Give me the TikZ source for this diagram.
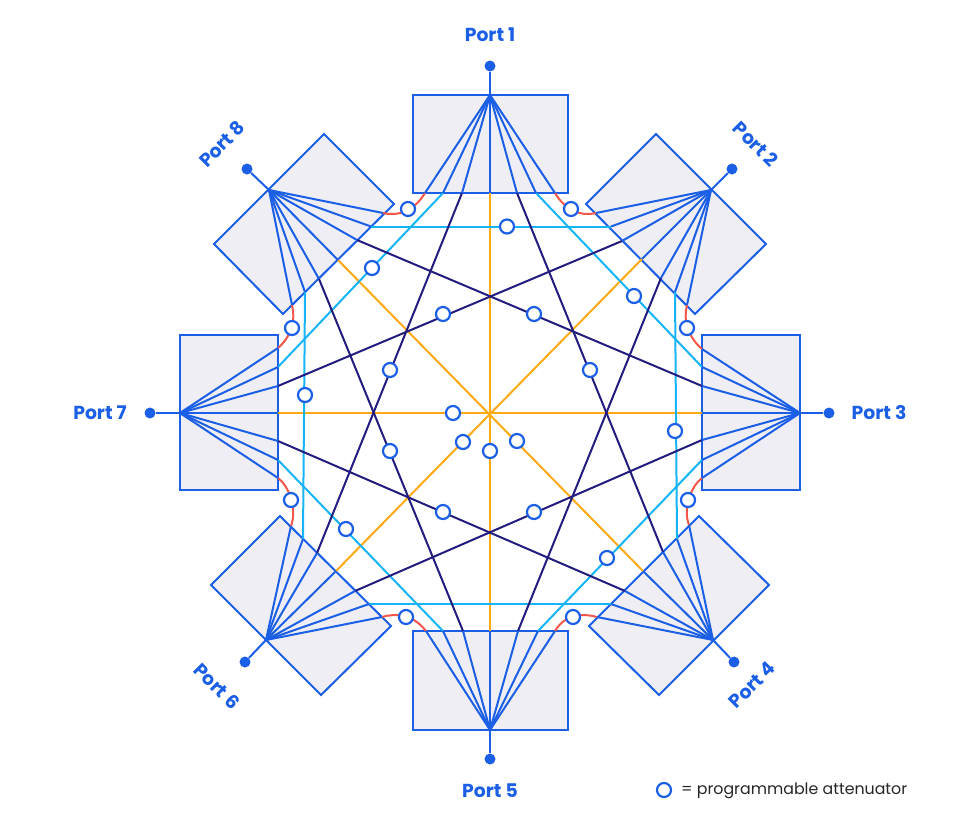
\documentclass[tikz,border=0pt]{standalone}
\usepackage{fontspec}
\setmainfont{Poppins}
\definecolor{pblue}{HTML}{1B5FE6}
\definecolor{pfill}{HTML}{EEEEF4}
\definecolor{pnavy}{HTML}{211C7E}
\definecolor{pcyan}{HTML}{14B4F6}
\definecolor{porange}{HTML}{FFA914}
\definecolor{pred}{HTML}{F4574A}
\tikzset{
  box/.style={draw=pblue,fill=pfill,line width=2pt,line join=miter},
  fan/.style={draw=pblue,line width=2pt},
  navyline/.style={draw=pnavy,line width=2pt},
  cyanline/.style={draw=pcyan,line width=2pt},
  orangeline/.style={draw=porange,line width=2pt},
  redline/.style={draw=pred,line width=2pt},
  atten/.style={circle,draw=pblue,fill=white,line width=2.2pt,minimum size=14pt,inner sep=0pt},
  portdot/.style={circle,fill=pblue,minimum size=11pt,inner sep=0pt},
  portlabel/.style={text=pblue,font=\fontsize{18.8}{22}\selectfont\bfseries,inner sep=0pt},
  legendtext/.style={text=black!85,font=\fontsize{15.8}{19}\selectfont,inner sep=0pt,anchor=west}
}
\begin{document}
\begin{tikzpicture}[x=1pt,y=-1pt]
\useasboundingbox (0,0) rectangle (980,825);
% apexes and box exits
\foreach \n/\x/\y in {
 a1/490/95, a2/711/190, a3/800/413, a4/713/640, a5/490/730, a6/266/640, a7/180/413, a8/269/190,
 p1a/425/193, p1b/443/193, p1c/462/193, p1d/490/193, p1e/517/193, p1f/536/193, p1g/555/193,
 p2a/596/213, p2b/611/226.5, p2c/622/241, p2d/642/259, p2e/661/278, p2f/675/292, p2g/687/305,
 p3a/702/349, p3b/702/367, p3c/702/386, p3d/702/413, p3e/702/440, p3f/702/460, p3g/702/478,
 p4a/689/525, p4b/677/539, p4c/663/552, p4d/643/571, p4e/625/591, p4f/611/604, p4g/597/617,
 p5a/555/631, p5b/538/631, p5c/518/631, p5d/490/631, p5e/463/631, p5f/443/631, p5g/426/631,
 p6a/382/617, p6b/369/604, p6c/355/591, p6d/336/571, p6e/317/553, p6f/303/539, p6g/291/526,
 p7a/278/478, p7b/278/460, p7c/278/441, p7d/278/413, p7e/278/386, p7f/278/367, p7g/278/348,
 p8a/292/305, p8b/305/292, p8c/319/279, p8d/338/260, p8e/357/240, p8f/371/226.5, p8g/383/213}
 {\coordinate (\n) at (\x,\y);}
% boxes
\path[box] (413,95) rectangle (568,193);
\path[box] (702,335) rectangle (800,490);
\path[box] (413,631) rectangle (568,730);
\path[box] (180,335) rectangle (278,490);
\path[box] (656,134) -- (766,244) -- (695,314) -- (586,204) -- cycle;
\path[box] (699,516) -- (769,585) -- (659,695) -- (589,626) -- cycle;
\path[box] (280,516) -- (391,626) -- (321,695) -- (211,585) -- cycle;
\path[box] (324,134) -- (394,204) -- (283,314) -- (214,244) -- cycle;
% orange
\draw[orangeline] (p1d) -- (p5d);
\draw[orangeline] (p2d) -- (p6d);
\draw[orangeline] (p3d) -- (p7d);
\draw[orangeline] (p4d) -- (p8d);
% cyan
\draw[cyanline] (p1b) -- (p7f);
\draw[cyanline] (p1f) -- (p3b);
\draw[cyanline] (p2b) -- (p8f);
\draw[cyanline] (p2f) -- (p4b);
\draw[cyanline] (p3f) -- (p5b);
\draw[cyanline] (p4f) -- (p6b);
\draw[cyanline] (p5f) -- (p7b);
\draw[cyanline] (p6f) -- (p8b);
% navy
\draw[navyline] (p1c) -- (p6e);
\draw[navyline] (p1e) -- (p4c);
\draw[navyline] (p2c) -- (p7e);
\draw[navyline] (p2e) -- (p5c);
\draw[navyline] (p3c) -- (p8e);
\draw[navyline] (p3e) -- (p6c);
\draw[navyline] (p4e) -- (p7c);
\draw[navyline] (p5e) -- (p8c);
% red arcs
\draw[redline] (p8g) .. controls (398,217) and (415,210) .. (p1a);
\draw[redline] (p2a) .. controls (581,217) and (565,210) .. (p1g);
\draw[redline] (p2g) .. controls (683,320) and (688,337) .. (p3a);
\draw[redline] (p3g) .. controls (690,487) and (683,510) .. (p4a);
\draw[redline] (p4g) .. controls (583,613) and (565,614) .. (p5a);
\draw[redline] (p6a) .. controls (395,613) and (413,614) .. (p5g);
\draw[redline] (p7a) .. controls (290,487) and (297,510) .. (p6g);
\draw[redline] (p8a) .. controls (296,320) and (291,337) .. (p7g);
% fans
\foreach \p in {1,...,8}
  \foreach \q in {a,b,c,d,e,f,g}
    \draw[fan] (a\p) -- (p\p\q);
% port dots
\node[portdot] (d1) at (490,66) {};
\node[portdot] (d2) at (732,169) {};
\node[portdot] (d3) at (829,413) {};
\node[portdot] (d4) at (734,662) {};
\node[portdot] (d5) at (490,759) {};
\node[portdot] (d6) at (245,662) {};
\node[portdot] (d7) at (150,413) {};
\node[portdot] (d8) at (247,169) {};
\foreach \p in {1,...,8} \draw[fan] (d\p) -- (a\p);
% attenuators
\foreach \n/\x/\y in {
 t1/408/209, t2/571/209, t3/687/328, t4/688/500, t5/573/617, t6/406/617, t7/291/500, t8/292/328,
 t9/507/226.5, t10/634/296, t11/675/431, t12/607/558, t13/346/529, t14/305/395, t15/372/268,
 t16/443/314, t17/534/314, t18/590/370, t19/534/512, t20/443/512, t21/390/451, t22/390/370,
 t23/453/413, t24/463/442, t25/490/451, t26/517/441, t27/664/790}
 {\node[atten] (\n) at (\x,\y) {};}
% labels
\node[portlabel] (l1) at (490,35) {Port 1};
\node[portlabel,rotate=-45] (l2) at (756,144) {Port 2};
\node[portlabel] (l3) at (879,413) {Port 3};
\node[portlabel,rotate=45] (l4) at (752,685) {Port 4};
\node[portlabel] (l5) at (490,791) {Port 5};
\node[portlabel,rotate=-45] (l6) at (217,686) {Port 6};
\node[portlabel] (l7) at (100,413) {Port 7};
\node[portlabel,rotate=45] (l8) at (222,144) {Port 8};
\node[legendtext] (lg) at (681,791) {= programmable attenuator};
\end{tikzpicture}
\end{document}
